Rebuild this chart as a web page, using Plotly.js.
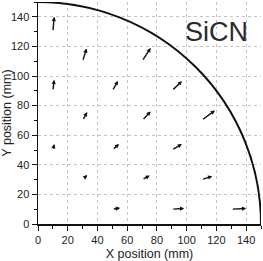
<!DOCTYPE html>
<html><head><meta charset="utf-8">
<script src="https://cdn.plot.ly/plotly-3.0.1.min.js"></script>
<style>html,body{margin:0;padding:0;background:#fff}</style>
</head><body><div id="chart" style="width:263px;height:261px"></div>
<script>
// Arrow tails (mm) and displacement components (mm)
const tailX = [10, 30, 70, 10, 50, 90, 30, 70, 110, 10, 50, 90, 30, 70, 110, 50, 90, 130];
const tailY = [130, 110, 110, 90, 90, 90, 70, 70, 70, 50, 50, 50, 30, 30, 30, 10, 10, 10];
const dX = [0.9, 2.7, 5.8, 0.9, 3.8, 6.8, 3.1, 5.8, 9.0, 1.0, 4.5, 6.8, 3.1, 5.2, 7.2, 5.2, 8.3, 10.0];
const dY = [10.0, 8.5, 8.9, 7.4, 6.7, 6.5, 5.6, 6.0, 6.7, 4.0, 4.0, 4.0, 3.1, 2.7, 2.2, 0.8, 0.5, 0.5];
const waferRadius = 150;
const xTicks = [0, 20, 40, 60, 80, 100, 120, 140];
const yTicks = [0, 20, 40, 60, 80, 100, 120, 140];
const label = "SiCN";

const arrows = tailX.map((x, i) => ({
  x: x + dX[i], y: tailY[i] + dY[i], ax: x, ay: tailY[i],
  xref: 'x', yref: 'y', axref: 'x', ayref: 'y',
  showarrow: true, arrowhead: 2, arrowsize: 0.6, arrowwidth: 1.4,
  arrowcolor: '#111', text: '', standoff: 0, startstandoff: 0
}));
arrows.push({
  xref: 'paper', yref: 'paper', x: 0.80, y: 0.865, showarrow: false,
  text: label, font: {family: 'Liberation Sans, Arial', size: 27, color: '#2a2a2a'},
  xanchor: 'center', yanchor: 'middle'
});

const axisCommon = {
  range: [0, 150], showline: true, linecolor: '#111', linewidth: 1.5,
  ticks: 'outside', ticklen: 5, tickwidth: 1, tickcolor: '#111',
  showgrid: true, gridcolor: '#c4c4c4', griddash: 'dot', gridwidth: 1,
  zeroline: false, mirror: false,
  tickfont: {family: 'Liberation Sans, Arial', size: 11, color: '#222'},
  minor: {dtick: 10, ticks: 'outside', ticklen: 3, tickcolor: '#111', showgrid: false},
  automargin: false, fixedrange: true
};

const layout = {
  width: 263, height: 261,
  margin: {l: 38, r: 2, t: 2, b: 37},
  paper_bgcolor: '#fff', plot_bgcolor: '#fff',
  showlegend: false,
  xaxis: Object.assign({}, axisCommon, {tickvals: xTicks, ticktext: xTicks.map(String),
    title: {text: 'X position (mm)', font: {family: 'Liberation Sans, Arial', size: 12.5, color: '#222'}, standoff: 7}}),
  yaxis: Object.assign({}, axisCommon, {tickvals: yTicks, ticktext: yTicks.map(String),
    title: {text: 'Y position (mm)', font: {family: 'Liberation Sans, Arial', size: 12.5, color: '#222'}, standoff: 6}}),
  shapes: [{type: 'circle', xref: 'x', yref: 'y', x0: -waferRadius, y0: -waferRadius, x1: waferRadius, y1: waferRadius,
    line: {color: '#111', width: 2}}],
  annotations: arrows
};

Plotly.newPlot('chart', [{x: [], y: [], type: 'scatter', mode: 'markers'}], layout, {displayModeBar: false, staticPlot: true});
</script></body></html>
